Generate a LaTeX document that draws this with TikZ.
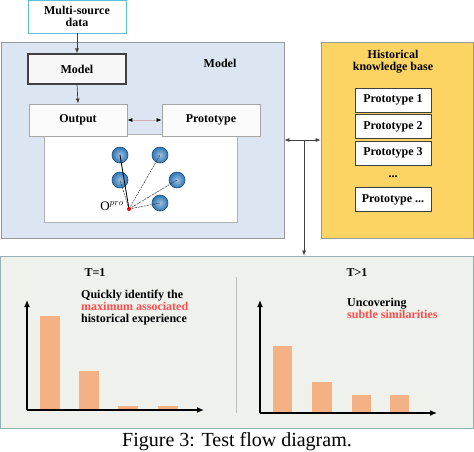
\documentclass[tikz,border=0pt]{standalone}
\usepackage{fontspec}
\setmainfont{Liberation Serif}[BoldFont={Liberation Serif Bold},ItalicFont={Liberation Serif Italic}]
\usetikzlibrary{arrows.meta,positioning}
\definecolor{mblue}{HTML}{DCE6F2}
\definecolor{kbyel}{HTML}{FCD463}
\definecolor{panel}{HTML}{EEF1EC}
\definecolor{barc}{HTML}{F4B183}
\definecolor{redt}{HTML}{FF4D4D}
\definecolor{cyanb}{HTML}{5BBFDE}
\definecolor{ballc}{HTML}{2E75B6}
\tikzset{
  every node/.style={font=\fontsize{12}{13}\selectfont\bfseries, inner sep=0pt},
  box/.style={draw=gray!70, fill=white!97!gray, line width=0.8pt, minimum width=98pt, minimum height=32pt, align=center},
  pbox/.style={draw=black!75, fill=white, line width=0.8pt, minimum width=76pt, minimum height=24pt},
  arr/.style={-{Latex[length=5pt,width=4pt]}, line width=0.7pt, black!75},
  darr/.style={{Latex[length=5pt,width=4pt]}-{Latex[length=5pt,width=4pt]}, line width=0.7pt, black!75},
  bar/.style={fill=barc},
  axis/.style={-{Latex[length=7pt,width=6pt]}, line width=1.4pt, black},
  ballnode/.style={circle, minimum size=16pt, draw=ballc!70!black, line width=0.6pt, inner color=ballc!45!white, outer color=ballc},
  captext/.style={font=\fontsize{20}{22}\selectfont\mdseries}
}
\begin{document}
\begin{tikzpicture}[x=1pt,y=-1pt]
\useasboundingbox (0,0) rectangle (474,452);
% model big box
\node[draw=gray!80, fill=mblue, line width=0.8pt, minimum width=283pt, minimum height=196pt] (modelbox) at (142.5,140) {};
\node (mlabel) at (220,63) {Model};
% multi-source
\node[draw=cyanb, fill=white, line width=0.9pt, minimum width=98pt, minimum height=33pt, align=center] (ms) at (77,16.5) {Multi-source\\[-1pt]data};
\node[draw=black!75, fill=white!94!gray, line width=1.1pt, minimum width=98pt, minimum height=30pt] (mdl) at (77,69) {Model};
% white region
\node[draw=gray!60, fill=white, line width=0.6pt, minimum width=193pt, minimum height=88pt] (wr) at (140.5,178) {};
\node[box] (out) at (78,120) {Output};
\node[box] (proto) at (211,120) {Prototype};
% arrows
\draw[arr] (ms.south) -- (mdl.north);
\draw[arr] (mdl.south) -- (out.north);
\draw[{Latex[length=5pt,width=4pt,color=black]}-{Latex[length=5pt,width=4pt,color=black]}, line width=0.7pt, draw=red!25!gray!50] (out.east) -- (proto.west);
% prototype scatter
\coordinate (o) at (129,209);
\node[ballnode] (b1) at (120,155) {};
\node[ballnode] (b2) at (160,155) {};
\node[ballnode] (b3) at (120,180) {};
\node[ballnode] (b4) at (177,180) {};
\node[ballnode] (b5) at (160,203) {};
\draw[line width=0.9pt, black] (o) -- (b1.center);
\draw[dash pattern=on 2pt off 1pt, line width=0.5pt, black!80] (o) -- (b2.center);
\draw[dash pattern=on 2pt off 1pt, line width=0.5pt, black!80] (o) -- (b3.center);
\draw[dash pattern=on 2pt off 1pt, line width=0.5pt, black!80] (o) -- (b4.center);
\draw[dash pattern=on 2pt off 1pt, line width=0.5pt, black!80] (o) -- (b5.center);
\fill[red] (o) circle (2pt);
\node[font=\fontsize{13}{14}\selectfont\mdseries, anchor=east] (olab) at (124,206) {O$^{pro}$};
% knowledge base
\node[draw=gray!80, fill=kbyel, line width=0.8pt, minimum width=152pt, minimum height=196pt] (kb) at (397,140) {};
\node[align=center] (kbt) at (393,62) {Historical\\[-1pt]knowledge base};
\node[pbox] (p1) at (393,100) {Prototype 1};
\node[pbox] (p2) at (393,126.5) {Prototype 2};
\node[pbox] (p3) at (393,153) {Prototype 3};
\node (pd) at (393,177) {...};
\node[pbox] (p4) at (393,199.5) {Prototype ...};
% bottom panel
\node[draw=gray!60!teal!60, fill=panel, line width=0.8pt, minimum width=473pt, minimum height=172pt] (bp) at (237,342) {};
% connectors
\draw[darr] (modelbox.east) -- (kb.west);
\coordinate (j) at (304,140);
\draw[arr] (j) -- (j |- bp.north);
% divider
\draw[gray!50, line width=0.6pt] (236,277) -- (236,413);
% left panel
\node (t1) at (95,273) {T=1};
\node[anchor=west, align=left] (lt) at (81,308) {Quickly identify the\\[-1pt]\textcolor{redt}{maximum associated}\\[-1pt]historical experience};
\fill[bar] (40,410) rectangle (60,316);
\fill[bar] (79,410) rectangle (99,371);
\fill[bar] (118,410) rectangle (138,406);
\fill[bar] (158,410) rectangle (178,406);
\coordinate (lo) at (27,410);
\draw[axis] (lo) -- (27,300);
\draw[axis] (lo) -- (204,410);
% right panel
\node (t2) at (357,273) {T>1};
\node[anchor=west, align=left] (rt) at (347,308) {Uncovering\\[-1pt]\textcolor{redt}{subtle similarities}};
\fill[bar] (273,413) rectangle (292,346);
\fill[bar] (312,413) rectangle (332,382);
\fill[bar] (352,413) rectangle (371,395);
\fill[bar] (390,413) rectangle (409,395);
\coordinate (ro) at (260,413);
\draw[axis] (ro) -- (260,300);
\draw[axis] (ro) -- (437,413);
% caption
\node[captext] (capn) at (237,442) {Figure 3: Test flow diagram.};
\end{tikzpicture}
\end{document}
